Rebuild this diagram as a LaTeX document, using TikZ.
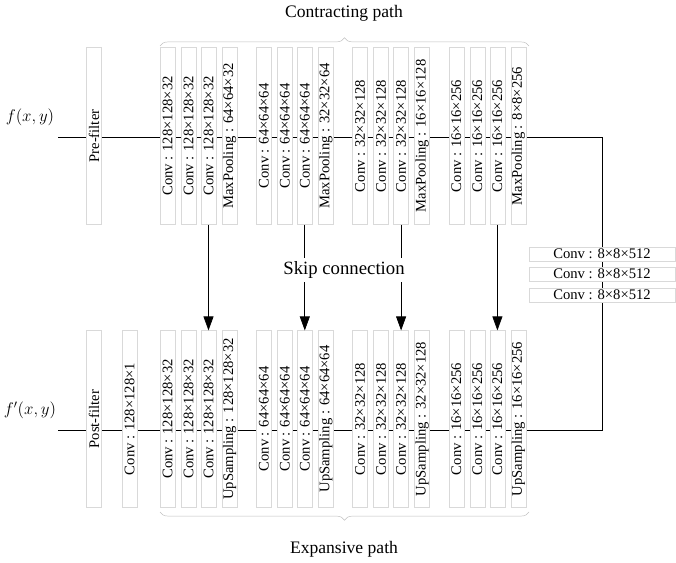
\documentclass[tikz,border=0pt]{standalone}
\usepackage{fontspec}
\setmainfont{Liberation Serif}
\usetikzlibrary{positioning,arrows.meta,decorations.pathreplacing}

\begin{document}
\begin{tikzpicture}[
  x=0.03cm, y=-0.03cm,
  layer/.style={draw=black!15, fill=white, rectangle, rotate=90, minimum width=5.3cm,
    minimum height=0.45cm, inner sep=0pt, font=\fontsize{12.5}{13}\selectfont},
  deep/.style={draw=black!15, fill=white, rectangle, minimum width=4.38cm,
    minimum height=0.42cm, inner sep=0pt, font=\fontsize{12.5}{13}\selectfont},
  skip/.style={-{Triangle[length=0.42cm,width=0.3cm]}, semithick},
  brc/.style={draw=black!25, decorate, decoration={brace, amplitude=7pt}},
]
\useasboundingbox (0,0) rectangle (676,562);

% main signal path
\coordinate (in) at (58,137);
\coordinate (turn) at (602,137);
\coordinate (out) at (58,430);
\draw[thick] (in) -- (turn) |- (out);

\node (fin) at (30,117) {\Large $f(x,y)$};
\node (fout) at (30,410) {\Large $f'(x,y)$};

\node (pre) [layer] at (94,136) {Pre-filter};
\node (post) [layer] at (94,419) {Post-filter};
\node (last) [layer] at (129.5,419) {Conv : 128\texttimes128\texttimes1};

% encoder / decoder blocks
\foreach \g/\s/\p in {1/128\texttimes128\texttimes32/64\texttimes64\texttimes32,
                      2/64\texttimes64\texttimes64/32\texttimes32\texttimes64,
                      3/32\texttimes32\texttimes128/16\texttimes16\texttimes128,
                      4/16\texttimes16\texttimes256/8\texttimes8\texttimes256} {
  \pgfmathsetmacro{\gx}{160+96.3*(\g-1)}
  \foreach \k/\dx in {1/7.5,2/28.5,3/48.5} {
    \node (t\g\k) [layer] at (\gx+\dx,136) {Conv : \s};
    \node (b\g\k) [layer] at (\gx+\dx,419) {Conv : \s};
  }
  \node (t\g4) [layer] at (\gx+69.5,136) {MaxPooling : \p};
}
\node (b14) [layer] at (229.5,419) {UpSampling : 128\texttimes128\texttimes32};
\node (b24) [layer] at (325.8,419) {UpSampling : 64\texttimes64\texttimes64};
\node (b34) [layer] at (422.1,419) {UpSampling : 32\texttimes32\texttimes128};
\node (b44) [layer] at (518.4,419) {UpSampling : 16\texttimes16\texttimes256};

% bottleneck
\node (c1) [deep] at (602,254) {Conv : 8\texttimes8\texttimes512};
\node (c2) [deep] at (602,274) {Conv : 8\texttimes8\texttimes512};
\node (c3) [deep] at (602,295) {Conv : 8\texttimes8\texttimes512};

% skip connections
\foreach \g in {1,...,4} {
  \draw[skip] (t\g3.west) -- (b\g3.east);
}
\node (skiplbl) [fill=white, font=\fontsize{16}{18}\selectfont] at (344,270) {Skip connection};

% braces
\draw[brc] (160,46) -- (529,46);
\node (contr) [font=\fontsize{15}{17}\selectfont] at (344,13) {Contracting path};
\draw[brc] (529,512) -- (160,512);
\node (expan) [font=\fontsize{15}{17}\selectfont] at (344,549) {Expansive path};
\end{tikzpicture}
\end{document}
